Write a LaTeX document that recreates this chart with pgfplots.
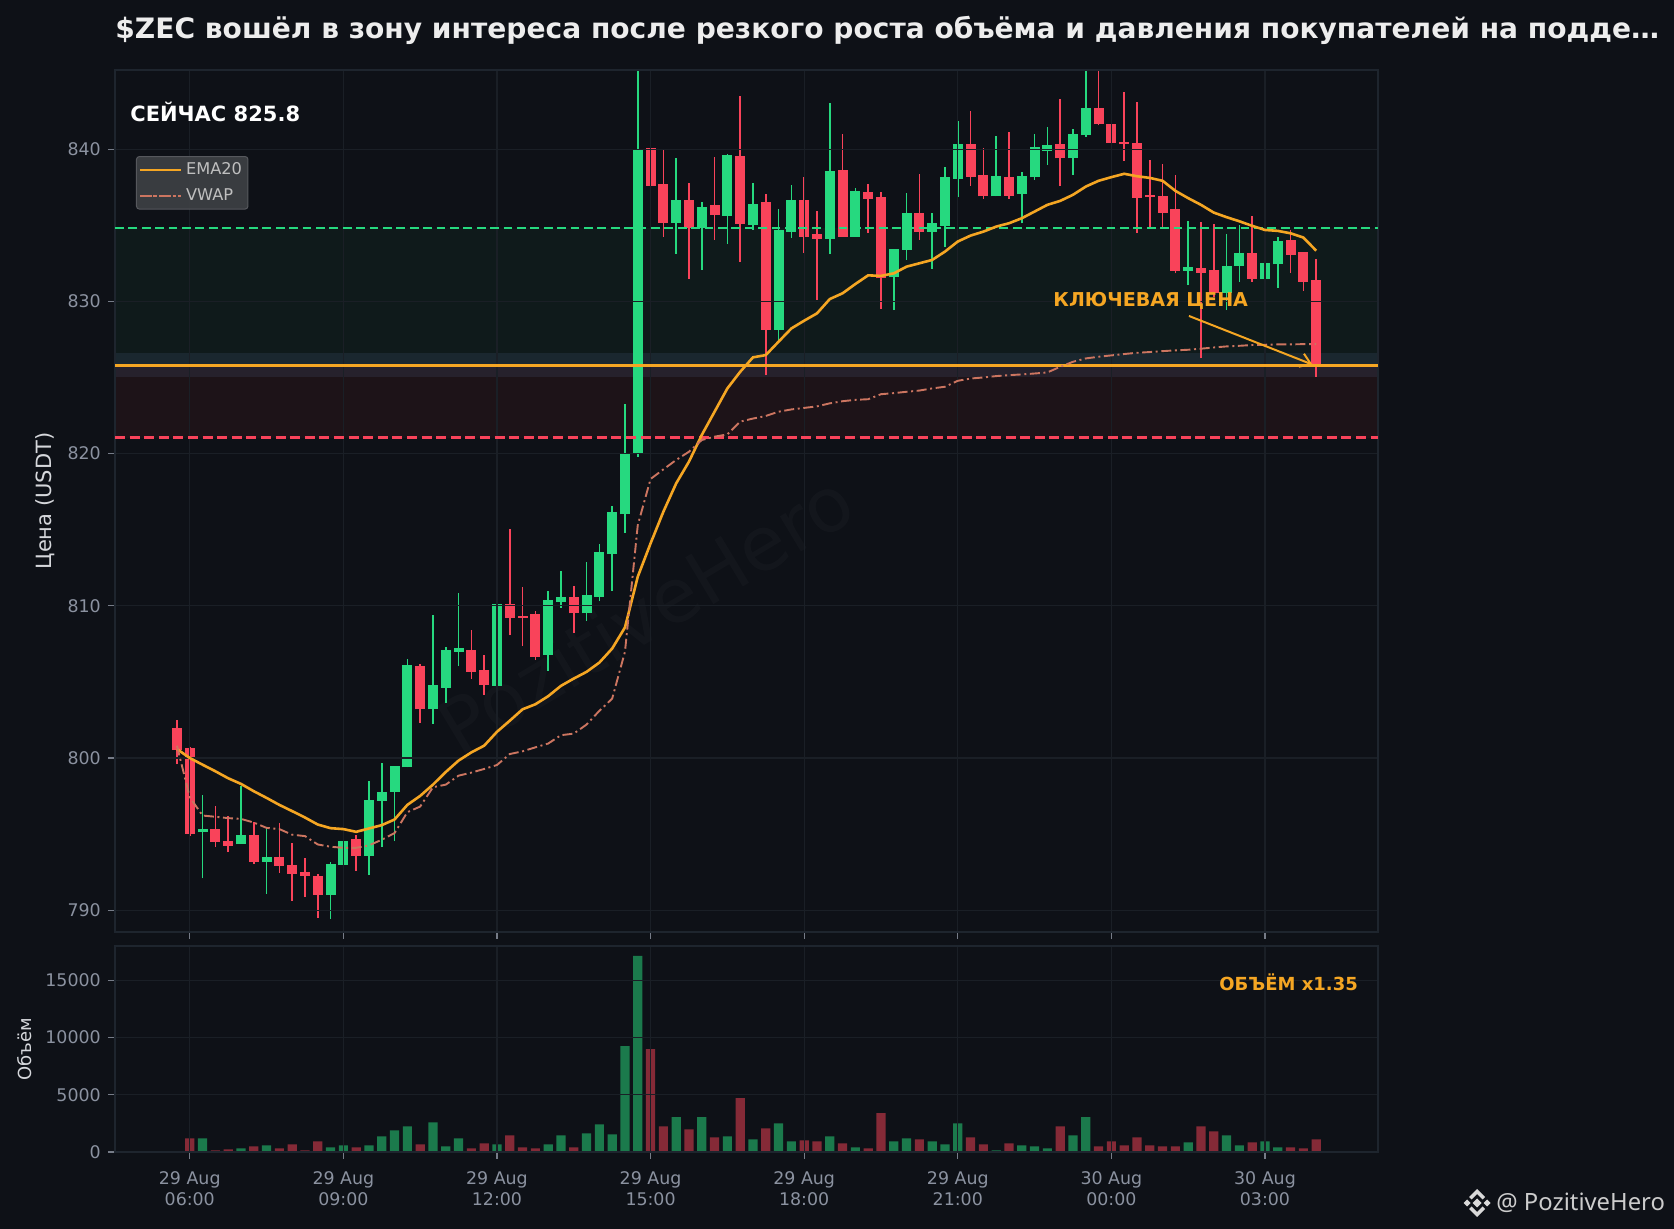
\documentclass[border=0pt]{standalone}
\usepackage{fontspec}
\usepackage{pgfplots}
\usepackage{pgfplotstable}
\pgfplotsset{compat=1.18}
\usetikzlibrary{arrows.meta}
\setmainfont{DejaVu Sans}
\newfontfamily\wmfont{Noto Sans}
\definecolor{bg}{HTML}{0E1117}
\definecolor{spine}{HTML}{1E252E}
\definecolor{gridc}{HTML}{1A1F26}
\definecolor{tickc}{HTML}{8B92A0}
\definecolor{labc}{HTML}{D5D7DB}
\definecolor{up}{HTML}{26D97F}
\definecolor{down}{HTML}{F9435A}
\definecolor{volup}{HTML}{1B7A4C}
\definecolor{voldown}{HTML}{852A37}
\definecolor{gold}{HTML}{F5A623}
\definecolor{vw}{HTML}{CC7560}
\definecolor{gzone}{HTML}{0F1A1B}
\definecolor{rzone}{HTML}{1D1318}
\definecolor{band}{HTML}{6A8DC0}
\pgfplotstableread{
i o h l c
2 795.13 797.6 792.1 795.35
5 794.34 798.19 794.34 794.96
7 793.17 795.31 791.07 793.52
12 791.0 793.19 789.43 793.06
13 792.99 794.89 790.55 794.56
15 793.56 798.52 792.31 797.25
16 797.18 799.69 794.15 797.77
17 797.77 799.48 794.54 799.48
18 799.39 806.48 799.39 806.09
20 803.19 809.39 802.25 804.78
21 804.63 807.27 803.62 807.07
22 806.99 810.83 806.07 807.2
25 804.76 810.37 803.84 810.09
29 806.76 810.96 805.73 810.37
30 810.26 812.28 809.87 810.61
32 809.5 812.87 809.01 810.68
33 810.59 814.05 810.31 813.51
34 813.42 816.55 810.99 816.14
35 816.0 823.26 814.8 819.97
36 819.97 846.0 819.8 839.96
39 835.18 839.43 833.14 836.64
41 834.85 836.51 832.06 836.18
43 835.64 839.69 833.79 839.61
45 835.04 837.79 834.69 836.38
47 828.14 836.07 827.39 834.67
48 834.58 837.63 834.19 836.64
51 834.12 843.05 833.14 838.55
53 834.25 837.43 834.25 837.24
56 831.58 833.46 829.43 833.46
57 833.4 837.11 832.72 835.79
59 834.58 835.81 832.13 835.13
60 834.98 838.84 833.57 838.16
61 838.07 841.86 836.86 840.33
64 836.89 840.88 836.89 838.22
66 837.08 838.51 835.13 838.22
67 838.14 841.01 838.0 840.13
68 839.91 841.47 838.97 840.26
70 839.39 841.32 838.31 840.99
71 840.9 846.0 840.81 842.7
79 832.02 835.26 831.07 832.24
82 830.57 834.43 829.43 832.3
83 832.35 835.0 831.29 833.16
85 831.49 833.64 830.7 832.5
86 832.43 834.21 830.9 833.95
}\bulltable
\pgfplotstableread{
i o h l c
0 801.97 802.49 799.6 800.52
1 800.63 800.74 794.9 795.02
3 795.35 796.86 794.15 794.48
4 794.56 796.16 793.82 794.21
6 794.96 795.79 793.03 793.17
8 793.52 795.76 792.45 792.9
9 792.99 794.39 790.61 792.38
10 792.53 793.45 790.87 792.25
11 792.27 792.4 789.5 791.0
14 794.69 794.96 792.58 793.56
19 806.03 806.16 802.31 803.19
23 807.07 808.38 805.22 805.68
24 805.76 806.75 804.15 804.78
26 810.09 815.04 808.07 809.21
27 809.36 811.23 807.35 809.23
28 809.45 809.67 806.43 806.65
31 810.55 811.29 808.22 809.5
37 840.07 841.47 833.33 837.61
38 837.7 840.02 834.25 835.18
40 836.64 837.79 831.49 834.85
42 836.32 839.5 834.06 835.7
44 839.54 843.51 832.61 835.11
46 836.51 837.04 825.18 828.14
49 836.64 838.18 833.2 834.25
50 834.41 835.94 830.09 834.12
52 838.62 841.01 834.25 834.25
54 837.17 837.72 834.52 836.75
55 836.84 837.19 829.5 831.51
58 835.79 838.38 834.06 834.58
62 840.33 842.52 837.59 838.2
63 838.29 840.09 836.73 836.89
65 838.16 841.14 836.73 836.95
69 840.33 843.31 837.59 839.39
72 842.7 846.0 841.56 841.62
73 841.64 841.78 837.52 840.39
74 840.46 843.77 839.25 840.31
75 840.39 843.11 834.52 836.82
76 836.97 839.3 834.87 836.84
77 836.91 839.04 834.87 835.83
78 836.05 838.31 831.84 832.02
80 832.17 835.2 826.25 831.89
81 832.04 835.09 830.3 830.53
84 833.16 835.61 831.29 831.49
87 834.01 834.67 831.89 833.07
88 833.22 833.22 830.7 831.29
89 831.38 832.79 825.04 825.88
}\beartable
\pgfplotstableread{
i ema vwap
0 800.59 800.81
1 800.0 797.42
2 799.56 796.22
3 799.13 796.14
4 798.67 796.05
5 798.3 796.0
6 797.82 795.76
7 797.38 795.41
8 796.92 795.33
9 796.51 794.96
10 796.09 794.87
11 795.63 794.32
12 795.39 794.17
13 795.33 794.1
14 795.15 794.1
15 795.37 794.26
16 795.59 794.63
17 795.96 795.07
18 796.92 796.44
19 797.51 796.81
20 798.25 798.08
21 799.08 798.25
22 799.83 798.84
23 800.37 799.04
24 800.81 799.28
25 801.72 799.54
26 802.45 800.26
27 803.2 800.44
28 803.53 800.7
29 804.06 800.95
30 804.74 801.5
31 805.22 801.6
32 805.66 802.2
33 806.27 803.1
34 807.19 803.9
35 808.58 806.98
36 811.91 815.3
37 814.1 818.33
38 816.18 818.96
39 818.04 819.58
40 819.47 820.12
41 821.22 820.89
42 822.75 821.11
43 824.28 821.26
44 825.37 822.1
45 826.32 822.3
46 826.47 822.47
47 827.35 822.75
48 828.22 822.9
49 828.73 823.0
50 829.21 823.1
51 830.15 823.3
52 830.53 823.44
53 831.14 823.53
54 831.71 823.57
55 831.67 823.9
56 831.84 823.97
57 832.28 824.06
58 832.5 824.14
59 832.72 824.28
60 833.27 824.39
61 833.93 824.78
62 834.32 824.93
63 834.58 825.0
64 834.91 825.09
65 835.13 825.15
66 835.46 825.2
67 835.9 825.26
68 836.34 825.33
69 836.6 825.7
70 837.0 826.03
71 837.54 826.25
72 837.92 826.36
73 838.16 826.45
74 838.38 826.54
75 838.22 826.62
76 838.11 826.67
77 837.92 826.73
78 837.26 826.78
79 836.78 826.82
80 836.34 826.89
81 835.83 826.97
82 835.53 827.04
83 835.26 827.08
84 834.96 827.13
85 834.69 827.15
86 834.63 827.17
87 834.47 827.17
88 834.19 827.19
89 833.33 827.19
}\linetable
\pgfplotstableread{
i v
2 1196
5 321
7 584
12 408
13 584
15 584
16 1371
17 1897
18 2247
20 2597
21 496
22 1196
25 671
29 671
30 1459
32 1634
33 2422
34 1547
35 9250
36 17130
39 3035
41 3035
43 1371
45 1109
47 2510
48 934
51 1371
53 408
56 934
57 1196
59 934
60 671
61 2510
64 146
66 584
67 496
68 321
70 1459
71 3035
79 846
82 1459
83 584
85 934
86 408
}\volup
\pgfplotstableread{
i v
1 1196
3 146
4 233
6 496
8 321
9 671
10 146
11 934
14 408
19 671
23 321
24 759
26 1459
27 408
28 321
31 408
37 8987
38 2247
40 1984
42 1284
44 4698
46 2072
49 1021
50 934
52 759
54 321
55 3385
58 1109
62 1284
63 671
65 759
69 2247
72 496
73 934
74 584
75 1284
76 584
77 496
78 496
80 2247
81 1809
84 846
87 408
88 321
89 1109
}\voldown
\pgfplotsset{
  common/.style={
    scale only axis, width=631.5pt,
    xmin=-4.84, xmax=93.83,
    xtick={1,13,25,37,49,61,73,85},
    scaled y ticks=false,
    /pgf/number format/assume math mode=true,
    /pgf/number format/1000 sep={},
    tick align=outside, xtick pos=bottom, ytick pos=left,
    major tick length=3.6pt,
    tick style={color=tickc!85!black, line width=0.6pt},
    ticklabel style={text=tickc, font=\fontsize{8.7}{10.5}\selectfont},
    grid=major, grid style={gridc, line width=0.55pt},
    axis line style={spine, line width=0.8pt},
    axis on top,
  },
}
\newcommand{\wick}[2]{\addplot[draw=none,mark=none,forget plot,
   error bars/.cd, y dir=plus, y explicit, error mark=none,
   error bar style={draw=#2, line width=0.85pt}]
   table[x=i,y=l,y error expr=\thisrow{h}-\thisrow{l}] {#1};}
\begin{document}
\begin{tikzpicture}
\path[use as bounding box] (0,0) rectangle (837pt,614.5pt);
\fill[bg] (0,0) rectangle (837pt,614.5pt);
% watermark
\node[rotate=31,text=white,opacity=0.025,font=\fontsize{37.5}{38}\selectfont] at (322.5pt,308pt) {PozitiveHero};
% price axis: zones and candles (grid lies over them)
\begin{axis}[common, at={(57.5pt,148.5pt)}, anchor=south west, height=431pt,
  ymin=788.57, ymax=845.2, ytick={790,800,810,820,830,840},
  xticklabels={},
  every axis title shift=0pt,
  title={\$ZEC вошёл в зону интереса после резкого роста объёма и давления покупателей на подде…},
  title style={at={(axis description cs:0,1.0465)},anchor=west,inner sep=0pt,text=black!7,font=\bfseries\fontsize{14.05}{14.05}\selectfont},
  ylabel={Цена (USDT)},
  ylabel style={at={(axis description cs:-0.0554,0.5)},anchor=center,text=labc,font=\fontsize{10.5}{12}\selectfont},
]
\addplot[draw=none,fill=gzone,forget plot] coordinates {(-5,825.8)(94,825.8)(94,834.8)(-5,834.8)} -- cycle;
\addplot[draw=none,fill=rzone,forget plot] coordinates {(-5,821.05)(94,821.05)(94,825.8)(-5,825.8)} -- cycle;
\addplot[draw=none,fill=band,fill opacity=0.12,forget plot] coordinates {(-5,825.04)(94,825.04)(94,826.58)(-5,826.58)} -- cycle;
\wick{\bulltable}{up}
\wick{\beartable}{down}
\addplot[draw=none,mark=none,forget plot,
   error bars/.cd, y dir=plus, y explicit, error mark=none,
   error bar style={draw=up, line width=5pt}]
   table[x=i,y=o,y error expr=\thisrow{c}-\thisrow{o}] {\bulltable};
\addplot[draw=none,mark=none,forget plot,
   error bars/.cd, y dir=plus, y explicit, error mark=none,
   error bar style={draw=down, line width=5pt}]
   table[x=i,y=c,y error expr=\thisrow{o}-\thisrow{c}] {\beartable};
\end{axis}
% overlay: levels and lines
\begin{axis}[scale only axis, width=631.5pt, height=431pt, at={(57.5pt,148.5pt)}, anchor=south west,
  hide axis, xmin=-4.84, xmax=93.83, ymin=788.57, ymax=845.2,
  legend cell align=left,
  legend image code/.code={\draw[#1] (0pt,0pt) -- (17pt,0pt); \path (-1pt,0pt) -- (19.5pt,0pt);},
  legend style={at={(axis description cs:0.0166,0.9002)},anchor=north west,
    draw=white!30!bg, fill=white!20!bg, fill opacity=0.9, text opacity=1,
    rounded corners=1.5pt, line width=0.5pt, text=white!75!black,
    font=\fontsize{8.1}{9.5}\selectfont, inner xsep=1pt, inner ysep=1pt,
    row sep=1.4pt},
]
\addplot[up, line width=1.2pt, dash pattern=on 4.4pt off 2.3pt, forget plot] coordinates {(-4.84,834.8)(93.83,834.8)};
\addplot[down, line width=1.2pt, dash pattern=on 5pt off 2.3pt, forget plot] coordinates {(-4.84,821.05)(93.83,821.05)};
\addplot[gold, line width=1.5pt, forget plot] coordinates {(-4.84,825.8)(93.83,825.8)};
\addplot[gold, line width=1.3pt] table[x=i,y=ema] {\linetable};
\addlegendentry{EMA20}
\addplot[vw, line width=0.95pt, dash pattern=on 5pt off 1.8pt on 1pt off 1.8pt] table[x=i,y=vwap] {\linetable};
\addlegendentry{VWAP}
\draw[gold, line width=1pt, -{Straight Barb[length=5pt,width=7pt]}] (axis cs:79.06,829.04) -- (axis cs:88.7,825.85);
\end{axis}
% volume axis
\begin{axis}[common, at={(57.5pt,38.5pt)}, anchor=south west, height=103pt,
  ymin=0, ymax=17990, ytick={0,5000,10000,15000},
  xticklabels={{29 Aug\\06:00},{29 Aug\\09:00},{29 Aug\\12:00},{29 Aug\\15:00},{29 Aug\\18:00},{29 Aug\\21:00},{30 Aug\\00:00},{30 Aug\\03:00}},
  xticklabel style={align=center,yshift=-2.7pt},
  ylabel={Объём},
  ylabel style={at={(axis description cs:-0.0713,0.5)},anchor=center,text=labc,font=\fontsize{9}{11}\selectfont},
  ybar, bar width=4.6pt, bar shift=0pt,
]
\addplot[draw=none,fill=volup] table[x=i,y=v] {\volup};
\addplot[draw=none,fill=voldown] table[x=i,y=v] {\voldown};
\end{axis}
% annotations
\node[anchor=west,inner sep=0pt,text=white,font=\bfseries\fontsize{10.5}{11}\selectfont] at (65pt,558.5pt) {СЕЙЧАС 825.8};
\node[anchor=west,inner sep=0pt,text=gold,font=\bfseries\fontsize{9.55}{11}\selectfont] at (526.5pt,464pt) {КЛЮЧЕВАЯ ЦЕНА};
\node[anchor=west,inner sep=0pt,text=gold,font=\bfseries\fontsize{9}{10}\selectfont] at (609.5pt,123.5pt) {ОБЪЁМ x1.35};
% brand mark
\begin{scope}[shift={(738.5pt,13pt)},x=0.5pt,y=0.5pt,fill=black!15]
\fill (0,4.5)--(4.5,0)--(0,-4.5)--(-4.5,0)--cycle;
\fill (-10,3.5)--(-6.5,0)--(-10,-3.5)--(-13.5,0)--cycle;
\fill (10,3.5)--(13.5,0)--(10,-3.5)--(6.5,0)--cycle;
\fill (0,14)--(8,6)--(5.5,3.5)--(0,9)--(-5.5,3.5)--(-8,6)--cycle;
\fill (0,-14)--(8,-6)--(5.5,-3.5)--(0,-9)--(-5.5,-3.5)--(-8,-6)--cycle;
\end{scope}
\node[anchor=west,text=black!20,inner sep=0pt,font=\wmfont\fontsize{11.9}{12}\selectfont] at (748pt,13pt) {@ PozitiveHero};
\end{tikzpicture}
\end{document}
